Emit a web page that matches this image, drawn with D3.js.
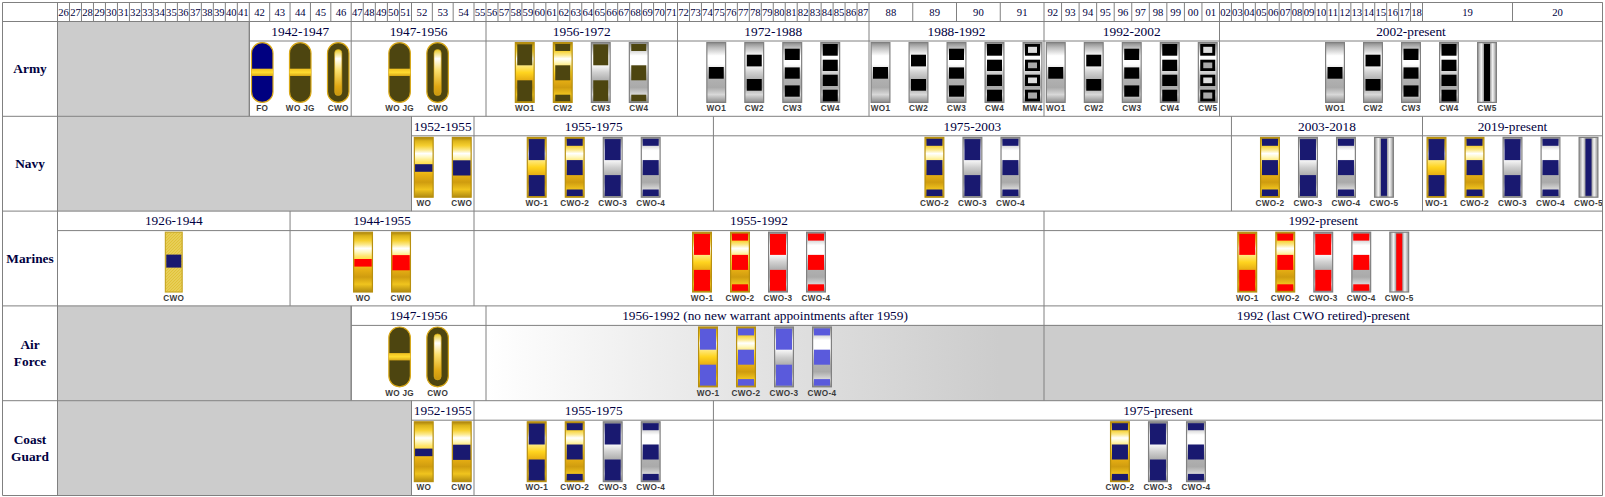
<!DOCTYPE html>
<html><head><meta charset="utf-8">
<script src="https://cdn.jsdelivr.net/npm/d3@7"></script>
<style>html,body{margin:0;padding:0;background:#fff}svg{display:block}</style>
</head><body><svg id="c" width="1605" height="497"></svg>
<script>
// ---- data ----
const services = ["Army","Navy","Marines","Air Force","Coast Guard"];
const yearTicks = d3.range(1926,2021);
// [label, start, end, rank names, badge codes (metal-layout-ink)]
const armyPeriods = [
 ["1942-1947",1942,1947,["FO","WO JG","CWO"],["g-p-N","g-p-o","g-q-o"]],
 ["1947-1956",1947,1956,["WO JG","CWO"],["g-p-o","g-q-o"]],
 ["1956-1972",1956,1972,["WO1","CW2","CW3","CW4"],["g-w-o","g-x-o","s-w-o","s-x-o"]],
 ["1972-1988",1972,1988,["WO1","CW2","CW3","CW4"],["s-a-k","s-b-k","s-c-k","s-d-k"]],
 ["1988-1992",1988,1992,["WO1","CW2","CW3","CW4","MW4"],["s-a-k","s-b-k","s-c-k","s-d-k","s-h-k"]],
 ["1992-2002",1992,2002,["WO1","CW2","CW3","CW4","CW5"],["s-a-k","s-b-k","s-c-k","s-d-k","s-h-k"]],
 ["2002-present",2002,2021,["WO1","CW2","CW3","CW4","CW5"],["s-a-k","s-b-k","s-c-k","s-d-k","s-l-k"]]
];
const navyPeriods = [
 ["1952-1955",1952,1955,["WO","CWO"],["g-n-v","g-m-v"]],
 ["1955-1975",1955,1975,["WO-1","CWO-2","CWO-3","CWO-4"],["g-w-v","g-x-v","s-w-v","s-x-v"]],
 ["1975-2003",1975,2003,["CWO-2","CWO-3","CWO-4"],["g-x-v","s-w-v","s-x-v"]],
 ["2003-2018",2003,2019,["CWO-2","CWO-3","CWO-4","CWO-5"],["g-x-v","s-w-v","s-x-v","s-l-v"]],
 ["2019-present",2019,2021,["WO-1","CWO-2","CWO-3","CWO-4","CWO-5"],["g-w-v","g-x-v","s-w-v","s-x-v","s-l-v"]]
];
const marinePeriods = [
 ["1926-1944",1926,1944,["CWO"],["r-r-v"]],
 ["1944-1955",1944,1955,["WO","CWO"],["g-n-R","g-m-R"]],
 ["1955-1992",1955,1992,["WO-1","CWO-2","CWO-3","CWO-4"],["g-w-R","g-x-R","s-w-R","s-x-R"]],
 ["1992-present",1992,2021,["WO-1","CWO-2","CWO-3","CWO-4","CWO-5"],["g-w-R","g-x-R","s-w-R","s-x-R","s-l-R"]]
];
const airPeriods = [
 ["1947-1956",1947,1956,["WO JG","CWO"],["g-p-o","g-q-o"]],
 ["1956-1992 (no new warrant appointments after 1959)",1956,1992,["WO-1","CWO-2","CWO-3","CWO-4"],["g-w-A","g-x-A","s-w-A","s-x-A"]],
 ["1992 (last CWO retired)-present",1992,2021,[],[]]
];
const coastPeriods = [
 ["1952-1955",1952,1955,["WO","CWO"],["g-n-v","g-m-v"]],
 ["1955-1975",1955,1975,["WO-1","CWO-2","CWO-3","CWO-4"],["g-w-v","g-x-v","s-w-v","s-x-v"]],
 ["1975-present",1975,2021,["CWO-2","CWO-3","CWO-4"],["g-x-v","s-w-v","s-x-v"]]
];
const servicePeriods = [armyPeriods,navyPeriods,marinePeriods,airPeriods,coastPeriods];
const blankSpans = [[1926,1942],[1926,1952],null,[1926,1947],[1926,1952]];
const fadedPeriod = "1956-1992 (no new warrant appointments after 1959)";
const blankPeriod = "1992 (last CWO retired)-present";

// ---- scales ----
const x = d3.scaleLinear()
  .domain([1926,1942,1947,1952,1955,1956,1988,1992,2002,2019,2021])
  .range([57.5,249.3,351.2,411.5,474,486,869,1044,1219.5,1422.5,1602.5]);
const y = d3.scaleBand().domain(services).range([21.5,495.5]);
const titleH = 19, spacing = 38;
const barH = d3.scaleLinear().domain([0,61]).range([0,61]);
const INK = {k:"#000",o:"#4d4510",v:"#191970",R:"#ff0000",A:"#5a5adc",N:"#000080"};
const LINE = "#808080", TXT = "#000040", GRAY = "#cccccc";

// block layouts in badge units [top,bottom]
const LAYOUT = {
 a:[[25,36.7]], b:[[12.7,24.4],[37,48.7]], c:[[6.7,18],[25.4,36.7],[43.4,54.7]],
 d:[[2,13.7],[17.7,29],[32.7,44],[47.7,59.4]], h:[[2,13.7],[17.7,29],[32.7,44],[47.7,59.4]],
 w:[[2.3,23.3],[38.3,59.2]], x:[[2,9],[23.3,38.3],[52.7,59.2]], n:[[27.4,35]], m:[[23.5,38.7]], r:[[23,36]]
};

const svg = d3.select("#c");
const defs = svg.append("defs");
function grad(id,stops,h){
  const g = defs.append("linearGradient").attr("id",id).attr("x1",0).attr("y1",0).attr("x2",h?1:0).attr("y2",h?0:1);
  stops.forEach(s=>g.append("stop").attr("offset",s[0]).attr("stop-color",s[1]));
}
grad("gold",[[0,"#a8820f"],[.06,"#dcb41a"],[.14,"#f6d030"],[.21,"#fce98c"],[.27,"#ffffff"],[.33,"#fff8c0"],[.4,"#ffe670"],[.5,"#ffd41f"],[.62,"#e8b014"],[.75,"#cf9c0f"],[.87,"#f0c41e"],[1,"#b08a10"]]);
grad("silver",[[0,"#8c8c8c"],[.08,"#bbbbbb"],[.15,"#dddddd"],[.22,"#ffffff"],[.36,"#ffffff"],[.41,"#eeeeee"],[.5,"#d0d0d0"],[.62,"#b0b0b0"],[.75,"#aaaaaa"],[.87,"#d8d8d8"],[1,"#8c8c8c"]]);
grad("silverH",[[0,"#909090"],[.2,"#f4f4f4"],[.36,"#8c8c8c"],[.64,"#8c8c8c"],[.8,"#f4f4f4"],[1,"#909090"]],true);
grad("slot",[[0,"#e8c820"],[.2,"#ffffff"],[.45,"#fbe070"],[.8,"#e0a814"],[1,"#c8960f"]]);
grad("band",[[0,"#f0c020"],[.5,"#ffdc30"],[1,"#d8a818"]]);
grad("fade",[[0,"#ffffff"],[.5,"#e2e2e2"],[.92,"#cccccc"],[1,"#cccccc"]],true);
const pat = defs.append("pattern").attr("id","braid").attr("width",3).attr("height",3).attr("patternUnits","userSpaceOnUse");
pat.append("rect").attr("width",3).attr("height",3).attr("fill","#dfbf30");
pat.append("path").attr("d","M0 3L3 0").attr("stroke","#f4e490").attr("stroke-width",.9);

const BW = 20;
function drawBadge(g,code){
  const [metal,layout,inkKey] = code.split("-");
  const ink = INK[inkKey];
  const H = barH(61);
  if(layout==="p"||layout==="q"){
    const W = 21.5;
    g.append("rect").attr("x",-W/2).attr("y",.6).attr("width",W).attr("height",H-1.2).attr("rx",W/2)
      .attr("fill",ink).attr("stroke","#d8a818").attr("stroke-width",1.2);
    if(layout==="p"){
      g.append("rect").attr("x",-W/2).attr("y",barH(26.7)).attr("width",W).attr("height",barH(7.3)).attr("fill","url(#band)");
    } else {
      g.append("rect").attr("x",-3.6).attr("y",barH(7.5)).attr("width",7.2).attr("height",barH(46)).attr("rx",3.6)
        .attr("fill","url(#slot)").attr("stroke","#d8a818").attr("stroke-width",.6);
    }
    return;
  }
  const w = metal==="r"?18:BW;
  const edge = metal==="s"?"#808080":metal==="r"?"#c8a828":"#b8900f";
  const fill = metal==="s"?(layout==="l"?"url(#silverH)":"url(#silver)"):metal==="r"?"url(#braid)":"url(#gold)";
  g.append("rect").attr("x",-w/2+.6).attr("y",.6).attr("width",w-1.2).attr("height",H-1.2)
    .attr("fill",fill).attr("stroke",edge).attr("stroke-width",1.2);
  if(layout==="l"){
    g.append("rect").attr("x",-3).attr("y",barH(2)).attr("width",6).attr("height",barH(57)).attr("fill",ink);
    return;
  }
  const wide = layout==="n"||layout==="m";
  const bw = wide?17.4:(inkKey==="k"||inkKey==="o"||layout==="r")?15:16;
  g.selectAll("rect.b").data(LAYOUT[layout]).join("rect").attr("class","b")
    .attr("x",-bw/2).attr("y",d=>barH(d[0])).attr("width",bw).attr("height",d=>barH(d[1]-d[0])).attr("fill",ink);
  if(layout==="h"){
    g.selectAll("rect.i").data(LAYOUT[layout]).join("rect").attr("class","i")
      .attr("x",-bw/2+3).attr("y",d=>barH(d[0])+2.8).attr("width",bw-6).attr("height",d=>barH(d[1]-d[0])-5.6)
      .attr("fill",(d,i)=>i%2?"#a8a8a8":"#dcdcdc");
  }
}

// ---- header ----
const head = svg.append("g");
head.selectAll("text").data(yearTicks).join("text")
  .attr("x",d=>(x(d)+x(d+1))/2).attr("y",15.5).attr("text-anchor","middle")
  .attr("font-family","Liberation Serif").attr("font-size",10.67).attr("fill",TXT)
  .text(d=>String(d%100).padStart(2,"0"));

// ---- rows ----
const rows = svg.append("g");
services.forEach((name,si)=>{
  const top = y(name), h = y.bandwidth();
  const g = rows.append("g");
  if(blankSpans[si]){
    const b = blankSpans[si];
    g.append("rect").attr("x",x(b[0])).attr("y",top).attr("width",x(b[1])-x(b[0])).attr("height",h).attr("fill",GRAY);
  }
  servicePeriods[si].forEach(p=>{
    const [label,s,e,ranks,badges] = p;
    const x0 = x(s), x1 = x(e), cx = (x0+x1)/2;
    if(label===fadedPeriod) g.append("rect").attr("x",x0).attr("y",top+titleH).attr("width",x1-x0).attr("height",h-titleH).attr("fill","url(#fade)");
    if(label===blankPeriod) g.append("rect").attr("x",x0).attr("y",top+titleH).attr("width",x1-x0).attr("height",h-titleH).attr("fill",GRAY);
    g.append("text").attr("x",cx).attr("y",top+14.3).attr("text-anchor","middle")
      .attr("font-family","Liberation Serif").attr("font-size",13.33).attr("fill",TXT).text(label);
    const half = (ranks.length-1)*spacing/2;
    const px = d3.scalePoint().domain(d3.range(ranks.length)).range([cx-half,cx+half]);
    ranks.forEach((r,i)=>{
      const b = g.append("g").attr("transform",`translate(${px(i)},${top+20.5})`);
      drawBadge(b,badges[i]);
      b.append("text").attr("x",0).attr("y",barH(61)+8.2).attr("text-anchor","middle")
        .attr("font-family","Liberation Sans").attr("font-weight","bold").attr("font-size",8.2)
        .attr("letter-spacing",.3).attr("fill","#3a3a3a").text(r);
    });
    g.append("line").attr("x1",x0).attr("x2",x1).attr("y1",top+titleH+.5).attr("y2",top+titleH+.5).attr("stroke",LINE);
    g.append("line").attr("x1",x0).attr("x2",x0).attr("y1",top).attr("y2",top+h).attr("stroke",LINE);
  });
  // service name
  const parts = name.split(" ");
  const lab = g.append("text").attr("text-anchor","middle").attr("font-family","Liberation Serif")
    .attr("font-weight","bold").attr("font-size",13.33).attr("fill",TXT);
  parts.forEach((t,i)=>lab.append("tspan").attr("x",30).attr("y",top+h/2+4.5+(i-(parts.length-1)/2)*17).text(t));
  if(blankSpans[si]) g.append("line").attr("x1",x(blankSpans[si][1])).attr("x2",x(blankSpans[si][1])).attr("y1",top).attr("y2",top+h).attr("stroke",LINE);
});

// ---- grid ----
const grid = svg.append("g").attr("stroke",LINE).attr("fill","none");
grid.selectAll("line.t").data(yearTicks.concat([2021])).join("line").attr("class","t")
  .attr("x1",d=>x(d)).attr("x2",d=>x(d)).attr("y1",2.5).attr("y2",21.5);
grid.selectAll("line.h").data(d3.range(services.length+1)).join("line").attr("class","h")
  .attr("x1",2.5).attr("x2",1602.5).attr("y1",d=>21.5+d*y.bandwidth()).attr("y2",d=>21.5+d*y.bandwidth());
grid.append("line").attr("x1",2.5).attr("x2",1602.5).attr("y1",2.5).attr("y2",2.5);
[2.5,57.5,1602.5].forEach(v=>grid.append("line").attr("x1",v).attr("x2",v).attr("y1",2.5).attr("y2",495.5));
</script></body></html>
